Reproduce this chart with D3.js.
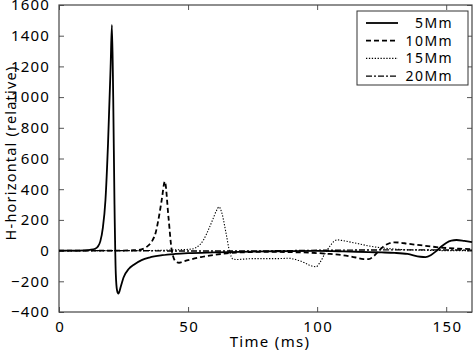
<!DOCTYPE html>
<html>
<head>
<meta charset="utf-8">
<script src="https://cdn.jsdelivr.net/npm/d3@7"></script>
<style>
  body { margin: 0; background: #fff; }
  svg text { font-family: "Noto Sans", "Noto Sans CJK JP", sans-serif; fill: #000; }
</style>
</head>
<body>
<div id="chart"></div>
<script>
// 各系列のデータ
var seriesNames = ["5Mm", "10Mm", "15Mm", "20Mm"];

var t5 = [0, 5, 10, 12, 14, 15, 16, 17, 18, 19, 20, 20.5, 21, 21.5, 22, 22.5, 23, 24, 25, 27, 29, 32, 35, 40, 45, 50, 60, 70, 80, 90, 100, 110, 120, 125, 130, 135, 140, 142, 144, 146, 148, 150, 152, 154, 157, 160];
var v5 = [0, 0, 2, 5, 12, 25, 60, 150, 330, 700, 1200, 1470, 1000, 300, -150, -260, -280, -230, -175, -120, -92, -62, -45, -30, -22, -17, -12, -8, -5, -3, -2, -5, -10, -12, -15, -22, -40, -42, -30, -5, 25, 50, 65, 69, 63, 55];

var t10 = [0, 10, 20, 25, 28, 31, 34, 36, 37.5, 38.5, 39.8, 41, 42.4, 43.7, 45.3, 46.5, 48, 50, 55, 60, 65, 70, 80, 90, 100, 105, 110, 115, 118, 120, 122, 124, 126, 128, 130, 132, 135, 140, 145, 150, 155, 160];
var v10 = [0, 0, 0, 0, 2, 5, 25, 60, 120, 200, 330, 450, 220, 0, -72, -79, -72, -62, -42, -28, -18, -12, -8, -10, -16, -22, -30, -45, -55, -55, -35, 0, 30, 48, 54, 52, 45, 35, 25, 17, 12, 10];

var t15 = [0, 30, 40, 45, 50, 52, 54, 56, 58, 59.5, 61, 62, 63, 64.7, 66, 67.4, 69, 72, 76, 80, 85, 89, 92, 95, 97, 99.6, 101, 103, 105, 106.5, 108, 110, 113, 116, 120, 125, 130, 135, 140, 150, 160];
var v15 = [0, 0, 2, 5, 8, 12, 30, 70, 140, 200, 260, 285, 250, 115, 0, -55, -58, -55, -52, -52, -52, -50, -60, -78, -95, -105, -80, -20, 30, 60, 70, 65, 55, 45, 30, 18, 10, 5, 3, 0, 0];

var t20 = [0, 20, 40, 60, 80, 90, 100, 110, 120, 130, 140, 150, 160];
var v20 = [0, 0, -2, -3, -2, 0, 2, 3, 4, 5, 5, 4, 3];

var xTicks = [0, 50, 100, 150];
var yTicks = [-400, -200, 0, 200, 400, 600, 800, 1000, 1200, 1400, 1600];

var dashes = ["none", "5,3", "1.3,1.6", "6,2,2,2"];
var widths = [1.8, 1.8, 1.1, 1.4];

// 描画領域
var margin = { top: 5, right: 2, bottom: 39, left: 59 },
    width = 474 - margin.left - margin.right,
    height = 351 - margin.top - margin.bottom;

var svg = d3.select("#chart")
    .append("svg")
    .attr("width", 474)
    .attr("height", 351)
    .append("g")
    .attr("transform", "translate(" + margin.left + "," + margin.top + ")");

var x = d3.scaleLinear().domain([0, 160]).range([0, width]);
var y = d3.scaleLinear().domain([-400, 1600]).range([height, 0]);

// 軸 (内向き目盛り)
var tickLen = 5;
var fmt = d3.format("d");
svg.append("g")
    .attr("transform", "translate(0," + height + ")")
    .call(d3.axisBottom(x).tickValues(xTicks).tickFormat(fmt).tickSizeInner(-tickLen).tickSizeOuter(0).tickPadding(tickLen + 4))
    .call(g => g.select(".domain").remove())
    .call(g => g.selectAll("text").style("font-size", "15px").style("letter-spacing", "1.4px").attr("dx", "0.7px"));

svg.append("g")
    .call(d3.axisLeft(y).tickValues(yTicks).tickFormat(fmt).tickSizeInner(-tickLen).tickSizeOuter(0).tickPadding(tickLen + 4))
    .call(g => g.select(".domain").remove())
    .call(g => g.selectAll("text").style("font-size", "15px").style("letter-spacing", "1.2px"));

svg.append("g")
    .call(d3.axisTop(x).tickValues(xTicks).tickSizeInner(-tickLen).tickSizeOuter(0).tickFormat(""))
    .call(g => g.select(".domain").remove());

svg.append("g")
    .attr("transform", "translate(" + width + ",0)")
    .call(d3.axisRight(y).tickValues(yTicks).tickSizeInner(-tickLen).tickSizeOuter(0).tickFormat(""))
    .call(g => g.select(".domain").remove());

svg.selectAll(".tick line").attr("stroke", "#555");

// 枠
svg.append("rect")
    .attr("x", 0).attr("y", 0)
    .attr("width", width).attr("height", height)
    .attr("fill", "none")
    .attr("stroke", "#444")
    .attr("stroke-width", 1.2);

// 曲線
var allT = [t5, t10, t15, t20];
var allV = [v5, v10, v15, v20];

var line = d3.line()
    .x(d => x(d[0]))
    .y(d => y(d[1]))
    .curve(d3.curveMonotoneX);

seriesNames.forEach(function (name, i) {
    var pts = allT[i].map((t, j) => [t, allV[i][j]]);
    svg.append("path")
        .datum(pts)
        .attr("fill", "none")
        .attr("stroke", "#000")
        .attr("stroke-width", widths[i])
        .attr("stroke-dasharray", dashes[i])
        .attr("d", line);
});

// 凡例
var legend = svg.append("g")
    .attr("transform", "translate(" + (357 - margin.left) + "," + (11 - margin.top) + ")");

legend.append("rect")
    .attr("width", 111).attr("height", 74)
    .attr("fill", "#fff")
    .attr("stroke", "#333")
    .attr("stroke-width", 1);

seriesNames.forEach(function (name, i) {
    var cy = 12 + i * 17.7;
    legend.append("line")
        .attr("x1", 9).attr("x2", 41)
        .attr("y1", cy).attr("y2", cy)
        .attr("stroke", "#000")
        .attr("stroke-width", widths[i])
        .attr("stroke-dasharray", dashes[i]);
    legend.append("text")
        .attr("x", 96).attr("y", cy)
        .attr("dy", "0.36em")
        .attr("text-anchor", "end")
        .style("font-size", "14px")
        .style("letter-spacing", "1.4px")
        .text(name);
});

// 軸ラベル
svg.append("text")
    .attr("text-anchor", "middle")
    .attr("x", 270 - margin.left)
    .attr("y", 347 - margin.top)
    .style("font-size", "15px")
    .style("letter-spacing", "1.3px")
    .text("Time (ms)");

svg.append("text")
    .attr("text-anchor", "middle")
    .attr("transform", "rotate(-90)")
    .attr("x", -(153 - margin.top))
    .attr("y", 15.5 - margin.left)
    .style("font-size", "14.5px")
    .style("letter-spacing", "1.2px")
    .text("H-horizontal (relative)");
</script>
</body>
</html>
